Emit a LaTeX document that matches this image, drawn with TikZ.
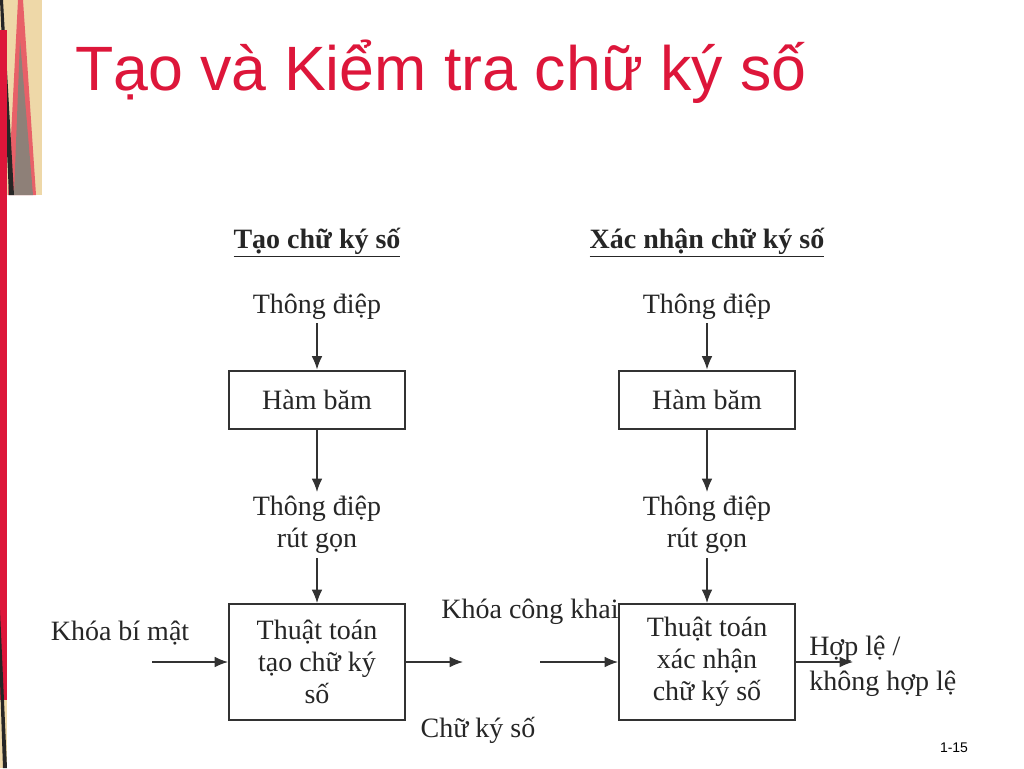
\documentclass[tikz,border=0pt]{standalone}
\usepackage{fontspec}
\setmainfont{Liberation Serif}
\newfontfamily\titlefont{Liberation Sans}
\usetikzlibrary{arrows.meta}

\definecolor{titlered}{RGB}{221,22,58}
\definecolor{stripbeige}{RGB}{238,216,168}
\definecolor{strippink}{RGB}{232,96,104}
\definecolor{stripgray}{RGB}{142,128,120}
\definecolor{linegray}{RGB}{50,50,50}

\begin{document}
\begin{tikzpicture}[
    x=0.75pt, y=-0.75pt,
    txt/.style={inner sep=3pt, text=black!85, font=\fontsize{21}{24}\selectfont},
    head/.style={txt, font=\fontsize{21}{24}\selectfont\bfseries},
    blk/.style={draw=linegray, line width=1.5pt, minimum width=132pt, inner sep=0pt},
    arr/.style={draw=linegray, line width=1pt, -{Latex[length=10pt, width=8pt]}}
        ]

    \path [use as bounding box] (0,0) rectangle (1024,768);

    % side decoration
    \fill [stripbeige] (0,0) rectangle (42,195);
    \fill [strippink] (18,0) -- (23,0) -- (36,195) -- (8,195) -- cycle;
    \fill [stripgray] (20,40) -- (33,195) -- (14,195) -- cycle;
    \fill [black!85] (0,0) -- (3,0) -- (14,195) -- (9,195) -- cycle;
    \fill [titlered] (0,30) rectangle (7,768);
    \fill [stripbeige] (0,700) -- (7,700) -- (7,768) -- (0,768) -- cycle;
    \fill [black!85] (0,610) -- (7,768) -- (3,768) -- (0,680) -- cycle;

    \node (title) at (75,90) [anchor=base west, inner sep=0pt, text=titlered,
        font=\titlefont\fontsize{47}{50}\selectfont] {Tạo và Kiểm tra chữ ký số};

    % generation side
    \node [head] (headA) at (317,248) [anchor=base] {\underline{Tạo chữ ký số}};
    \node [txt] (msgA) at (317,313) [anchor=base] {Thông điệp};
    \node [blk, minimum height=43.5pt] (hashA) at (317,399.5) {};
    \node [txt] at (hashA.center) {Hàm băm};
    \node [txt, align=center] (digA) at (317,525) {Thông điệp\\rút gọn};
    \node [blk, minimum height=87pt] (signA) at (317,662) {};
    \node [txt, align=center] at (signA.center) {Thuật toán\\tạo chữ ký\\số};
    \node [txt] (prvkey) at (120,640) [anchor=base] {Khóa bí mật};
    \coordinate (prvin) at (152,662);
    \coordinate (sigout) at (463,662);

    % verification side
    \node [head] (headB) at (707,248) [anchor=base] {\underline{Xác nhận chữ ký số}};
    \node [txt] (msgB) at (707,313) [anchor=base] {Thông điệp};
    \node [blk, minimum height=43.5pt] (hashB) at (707,399.5) {};
    \node [txt] at (hashB.center) {Hàm băm};
    \node [txt, align=center] (digB) at (707,525) {Thông điệp\\rút gọn};
    \node [blk, minimum height=87pt] (verB) at (707,662) {};
    \node [txt, align=center] at (verB.center) {Thuật toán\\xác nhận\\chữ ký số};
    \node [txt] (pubkey) at (530,618) [anchor=base] {Khóa công khai};
    \node [txt] (sig) at (478,737) [anchor=base] {Chữ ký số};
    \coordinate (sigin) at (540,662);
    \coordinate (resout) at (853,662);
    \node [txt, align=left, font=\fontsize{21}{26}\selectfont] (res) at (805,666) [anchor=west] {Hợp lệ /\\không hợp lệ};

    \node (page) at (954,752) [anchor=base, inner sep=0pt,
        font=\titlefont\fontsize{10.5}{12}\selectfont] {1-15};

    \draw [arr] (msgA) -- (hashA);
    \draw [arr] (hashA) -- (digA);
    \draw [arr] (digA) -- (signA);
    \draw [arr] (prvin) -- (signA);
    \draw [arr] (signA) -- (sigout);

    \draw [arr] (msgB) -- (hashB);
    \draw [arr] (hashB) -- (digB);
    \draw [arr] (digB) -- (verB);
    \draw [arr] (sigin) -- (verB);
    \draw [arr] (verB) -- (resout);

\end{tikzpicture}
\end{document}
